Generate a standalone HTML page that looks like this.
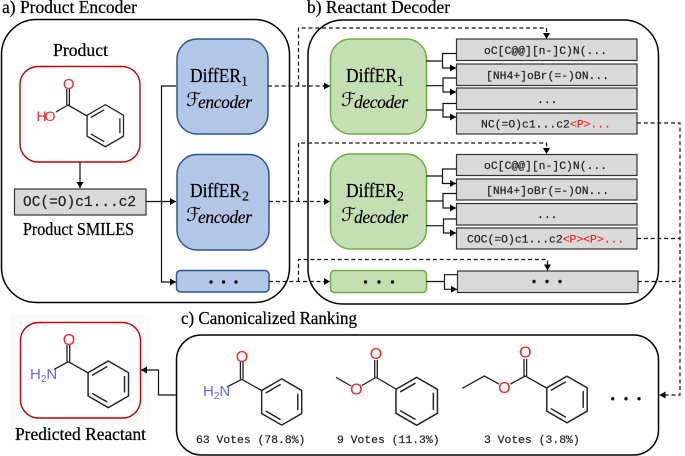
<!DOCTYPE html>
<html>
<head>
<meta charset="utf-8">
<style>
html,body{margin:0;padding:0;background:#fff;width:685px;height:456px;overflow:hidden}
svg{display:block;filter:blur(0.3px)}
.t{font-family:"Liberation Serif",serif;font-size:18px;fill:#000;stroke:#000;stroke-width:.25}
.d{font-family:"Liberation Serif",serif;font-size:20.5px;fill:#000;stroke:#000;stroke-width:.2}
.s{font-family:"Liberation Serif",serif;font-size:14px;fill:#000;stroke:#000;stroke-width:.15}
.f{font-family:"DejaVu Serif","DejaVu Sans",serif;font-size:19px;font-style:italic;fill:#000}
.e{font-family:"Liberation Serif",serif;font-size:17.5px;font-style:italic;fill:#000;stroke:#000;stroke-width:.15}
.m{font-family:"Liberation Mono",monospace;font-size:11.4px;fill:#222;stroke:#222;stroke-width:.2}
.v{font-family:"Liberation Mono",monospace;font-size:11.4px;fill:#222;stroke:#222;stroke-width:.2}
.r{fill:#ff2020;stroke:#ff2020}
.at{font-family:"Liberation Sans",sans-serif;font-size:14px}
.p{fill:none;stroke:#000;stroke-width:1.5}
.g{fill:#d9d9d9;stroke:#333;stroke-width:1.2}
.bl{fill:#b2c6e6;stroke:#2f5597;stroke-width:1.5}
.gr{fill:#c4dfb2;stroke:#71ad47;stroke-width:1.5}
.c{fill:none;stroke:#111;stroke-width:1.2}
.da{fill:none;stroke:#111;stroke-width:1.2;stroke-dasharray:4 2.8}
.b{fill:none;stroke:#222;stroke-width:1.3}
</style>
</head>
<body>
<svg width="685" height="456" viewBox="0 0 685 456" xmlns="http://www.w3.org/2000/svg">
<defs>
<marker id="a" markerUnits="userSpaceOnUse" markerWidth="8" markerHeight="8" refX="6" refY="3.5" orient="auto">
<path d="M0 0L6 3.5L0 7z" fill="#000"/>
</marker>
</defs>

<!-- panels -->
<text class="t" x="2" y="13" textLength="135" lengthAdjust="spacingAndGlyphs">a) Product Encoder</text>
<text class="t" x="307" y="13" textLength="143" lengthAdjust="spacingAndGlyphs">b) Reactant Decoder</text>
<text class="t" x="181" y="324" textLength="176" lengthAdjust="spacingAndGlyphs">c) Canonicalized Ranking</text>
<rect class="p" x="1.5" y="19.5" width="288" height="283" rx="35"/>
<rect class="p" x="308" y="20" width="350.5" height="284" rx="35"/>
<rect class="p" x="176.5" y="335" width="482" height="120" rx="25"/>

<!-- product -->
<text class="t" x="53" y="56" textLength="55" lengthAdjust="spacingAndGlyphs">Product</text>
<rect x="20" y="66.5" width="120" height="95.5" rx="18" fill="#fff" stroke="#c00000" stroke-width="1.4"/>
<g transform="translate(105.3 125.7)" class="b">
<path d="M0-21L18.2-10.5V10.5L0 21L-18.2 10.5V-10.500z"/>
<path d="M-14.5-8.2L-1-16M14.6-7.5V7.5M-14.5 8.2L-1 16"/>
</g>
<path class="b" d="M68 105L86.5 115.700M66.8 105V89M69.4 105V89M68 105L56 112"/>
<text class="at r" x="68.700" y="89" text-anchor="middle" style="stroke:none;font-size:15px">O</text>
<text class="at r" x="46" y="121" text-anchor="middle" textLength="19" style="stroke:none">HO</text>

<!-- SMILES -->
<rect class="g" x="14.5" y="189" width="131.5" height="26"/>
<text class="m" x="23" y="206" style="font-size:14.5px">OC(=O)c1...c2</text>
<text class="t" x="23" y="235" textLength="111" lengthAdjust="spacingAndGlyphs">Product SMILES</text>
<path class="c" d="M80 162V188" marker-end="url(#a)"/>
<path class="c" d="M146 201.5H176" marker-end="url(#a)"/>
<path class="c" d="M176 86H161.5V282H176" marker-end="url(#a)"/>

<!-- encoders -->
<rect class="bl" x="177" y="39" width="91" height="95" rx="20"/>
<rect class="bl" x="177" y="154.5" width="92" height="95.5" rx="20"/>
<rect class="bl" x="176.5" y="270.5" width="92.5" height="21.5" rx="4"/>
<text class="d" x="190" y="82" textLength="51" lengthAdjust="spacingAndGlyphs">DiffER</text><text class="s" x="241" y="85.500">1</text>
<text class="f" x="186" y="106">ℱ</text><text class="e" x="198" y="108" textLength="54" lengthAdjust="spacing">encoder</text>
<text class="d" x="190" y="197" textLength="51" lengthAdjust="spacingAndGlyphs">DiffER</text><text class="s" x="242" y="200.500">2</text>
<text class="f" x="186" y="221">ℱ</text><text class="e" x="198" y="223" textLength="54" lengthAdjust="spacing">encoder</text>
<g fill="#111"><circle cx="211" cy="282" r="1.7"/><circle cx="223.500" cy="282" r="1.7"/><circle cx="236" cy="282" r="1.7"/></g>

<!-- decoders -->
<rect class="gr" x="330.500" y="39" width="96" height="95" rx="20"/>
<rect class="gr" x="330.500" y="154" width="96" height="95" rx="20"/>
<rect class="gr" x="330.500" y="270.500" width="96" height="22" rx="4"/>
<text class="d" x="346" y="82" textLength="51" lengthAdjust="spacingAndGlyphs">DiffER</text><text class="s" x="397" y="85.500">1</text>
<text class="f" x="341" y="106">ℱ</text><text class="e" x="354" y="108" textLength="54" lengthAdjust="spacing">decoder</text>
<text class="d" x="346" y="197" textLength="51" lengthAdjust="spacingAndGlyphs">DiffER</text><text class="s" x="397" y="200.500">2</text>
<text class="f" x="341" y="221">ℱ</text><text class="e" x="354" y="223" textLength="54" lengthAdjust="spacing">decoder</text>
<g fill="#111"><circle cx="365.500" cy="282" r="1.7"/><circle cx="379" cy="282" r="1.7"/><circle cx="392.500" cy="282" r="1.7"/></g>

<!-- rows -->
<rect class="g" x="456.500" y="39" width="180.500" height="21.500"/>
<rect class="g" x="456.500" y="64" width="180.500" height="21.500"/>
<rect class="g" x="456.500" y="88" width="180.500" height="21.500"/>
<rect class="g" x="456.500" y="113" width="180.500" height="21"/>
<rect class="g" x="456.500" y="154.500" width="180.500" height="21"/>
<rect class="g" x="456.500" y="179" width="180.500" height="21"/>
<rect class="g" x="456.500" y="203.500" width="180.500" height="21.500"/>
<rect class="g" x="456.500" y="228" width="180.500" height="21"/>
<rect class="g" x="457.500" y="271" width="180.500" height="21.500"/>
<text class="m" x="484" y="54">oC[C@@][n-]C)N(...</text>
<text class="m" x="486" y="79">[NH4+]oBr(=-)ON...</text>
<text class="m" x="537" y="103">...</text>
<text class="m" x="481" y="127.500">NC(=O)c1...c2<tspan class="r">&lt;P&gt;...</tspan></text>
<text class="m" x="484" y="169">oC[C@@][n-]C)N(...</text>
<text class="m" x="486" y="194">[NH4+]oBr(=-)ON...</text>
<text class="m" x="537" y="218">...</text>
<text class="m" x="467" y="242.500">COC(=O)c1...c2<tspan class="r">&lt;P&gt;&lt;P&gt;...</tspan></text>
<g fill="#111"><circle cx="534" cy="281.500" r="1.7"/><circle cx="547" cy="281.500" r="1.7"/><circle cx="560" cy="281.500" r="1.7"/></g>

<!-- branch connectors -->
<g>
<path class="c" d="M426 61H442.500M456 53.500H442.500V68H456" marker-end="url(#a)"/>
<path class="c" d="M426 85.700H443M456 78H443V92H456" marker-end="url(#a)"/>
<path class="c" d="M426 110H443M456 103.500H443V117H456" marker-end="url(#a)"/>
<path class="c" d="M426 176H442.500M456 169H442.500V183.500H456" marker-end="url(#a)"/>
<path class="c" d="M426 201H443M456 193.500H443V208H456" marker-end="url(#a)"/>
<path class="c" d="M426 225.700H443.500M456 219H443.500V233H456" marker-end="url(#a)"/>
<path class="c" d="M426 281.500H444.500M457 274.700H444.500V289.300H457" marker-end="url(#a)"/>
</g>

<!-- dashed -->
<path class="da" d="M268 86H330" marker-end="url(#a)"/>
<path class="da" d="M269 201.500H330" marker-end="url(#a)"/>
<path class="da" d="M269 281.500H330" marker-end="url(#a)"/>
<path class="da" d="M298.500 86V28H546.500V39" marker-end="url(#a)"/>
<path class="da" d="M298.500 201.500V143H546.500V154" marker-end="url(#a)"/>
<path class="da" d="M298.500 281.500V259.500H547.500V270.500" marker-end="url(#a)"/>
<path class="da" d="M637 123H680V395H659.500" marker-end="url(#a)"/>
<path class="da" d="M637 238.500H680"/>
<path class="da" d="M638 281.500H680"/>

<!-- predicted -->
<rect x="10" y="314.500" width="141" height="110.500" fill="#fbfbfb"/>
<rect x="20.500" y="322.500" width="120" height="95.500" rx="18" fill="#fff" stroke="#c00000" stroke-width="1.4"/>
<g transform="translate(108.300 384.300) scale(1.11)" class="b">
<path d="M0-21L18.200-10.500V10.500L0 21L-18.200 10.500V-10.500z"/>
<path d="M-14.500-8.200L-1-16M14.600-7.500V7.500M-14.500 8.200L-1 16"/>
</g>
<path class="b" d="M68.300 361.700L88.300 373M67 361.700V345M69.700 361.700V345M68.300 361.700L54 369.500"/>
<text class="at r" x="69" y="345" text-anchor="middle" style="font-size:16px;stroke:none">O</text>
<text class="at" x="30" y="379" fill="#5a6cff" style="font-size:15px">H<tspan font-size="10" dy="3">2</tspan><tspan dy="-3">N</tspan></text>
<text class="t" x="15" y="440" textLength="131" lengthAdjust="spacingAndGlyphs">Predicted Reactant</text>
<path class="c" d="M176 395H158.500V370H141" marker-end="url(#a)"/>

<!-- candidate 1 -->
<g transform="translate(281.700 402) scale(1.1)" class="b">
<path d="M0-21L18.200-10.500V10.500L0 21L-18.200 10.500V-10.500z"/>
<path d="M-14.500-8.200L-1-16M14.600-7.500V7.500M-14.500 8.200L-1 16"/>
</g>
<path class="b" d="M241.700 379.300L261.700 390.500M240.400 379.300V362M243 379.300V362M241.700 379.300L227 387"/>
<text class="at r" x="242" y="362" text-anchor="middle" style="font-size:16px;stroke:none">O</text>
<text class="at" x="203" y="396" fill="#5a6cff" style="font-size:15px">H<tspan font-size="10" dy="3">2</tspan><tspan dy="-3">N</tspan></text>
<text class="v" x="196" y="443">63 Votes (78.8%)</text>

<!-- candidate 2 -->
<g transform="translate(416.700 401.300) scale(1.14)" class="b">
<path d="M0-21L18.200-10.500V10.500L0 21L-18.200 10.500V-10.500z"/>
<path d="M-14.500-8.200L-1-16M14.600-7.500V7.500M-14.500 8.200L-1 16"/>
</g>
<path class="b" d="M376 377.300L396 389M374.700 377.300V360M377.300 377.300V360M376 377.300L362 385.500M351 386L336 377.300"/>
<text class="at r" x="376" y="359" text-anchor="middle" style="font-size:16px;stroke:none">O</text>
<text class="at r" x="356.300" y="394.500" text-anchor="middle" style="font-size:16px;stroke:none">O</text>
<text class="v" x="337" y="443">9 Votes (11.3%)</text>

<!-- candidate 3 -->
<g transform="translate(567 399.500) scale(1.11)" class="b">
<path d="M0-21L18.200-10.500V10.500L0 21L-18.200 10.500V-10.500z"/>
<path d="M-14.500-8.200L-1-16M14.600-7.500V7.500M-14.500 8.200L-1 16"/>
</g>
<path class="b" d="M525.300 376L546.500 388M524 376V359M526.600 376V359M525.300 376L510.500 384M499 384L484.300 376L462.300 388.300"/>
<text class="at r" x="525.300" y="357.500" text-anchor="middle" style="font-size:16px;stroke:none">O</text>
<text class="at r" x="504.300" y="392.800" text-anchor="middle" style="font-size:16px;stroke:none">O</text>
<text class="v" x="484" y="443">3 Votes (3.8%)</text>

<g fill="#111"><circle cx="612.700" cy="398.700" r="1.7"/><circle cx="626" cy="398.700" r="1.7"/><circle cx="639" cy="398.700" r="1.7"/></g>
</svg>
</body>
</html>
